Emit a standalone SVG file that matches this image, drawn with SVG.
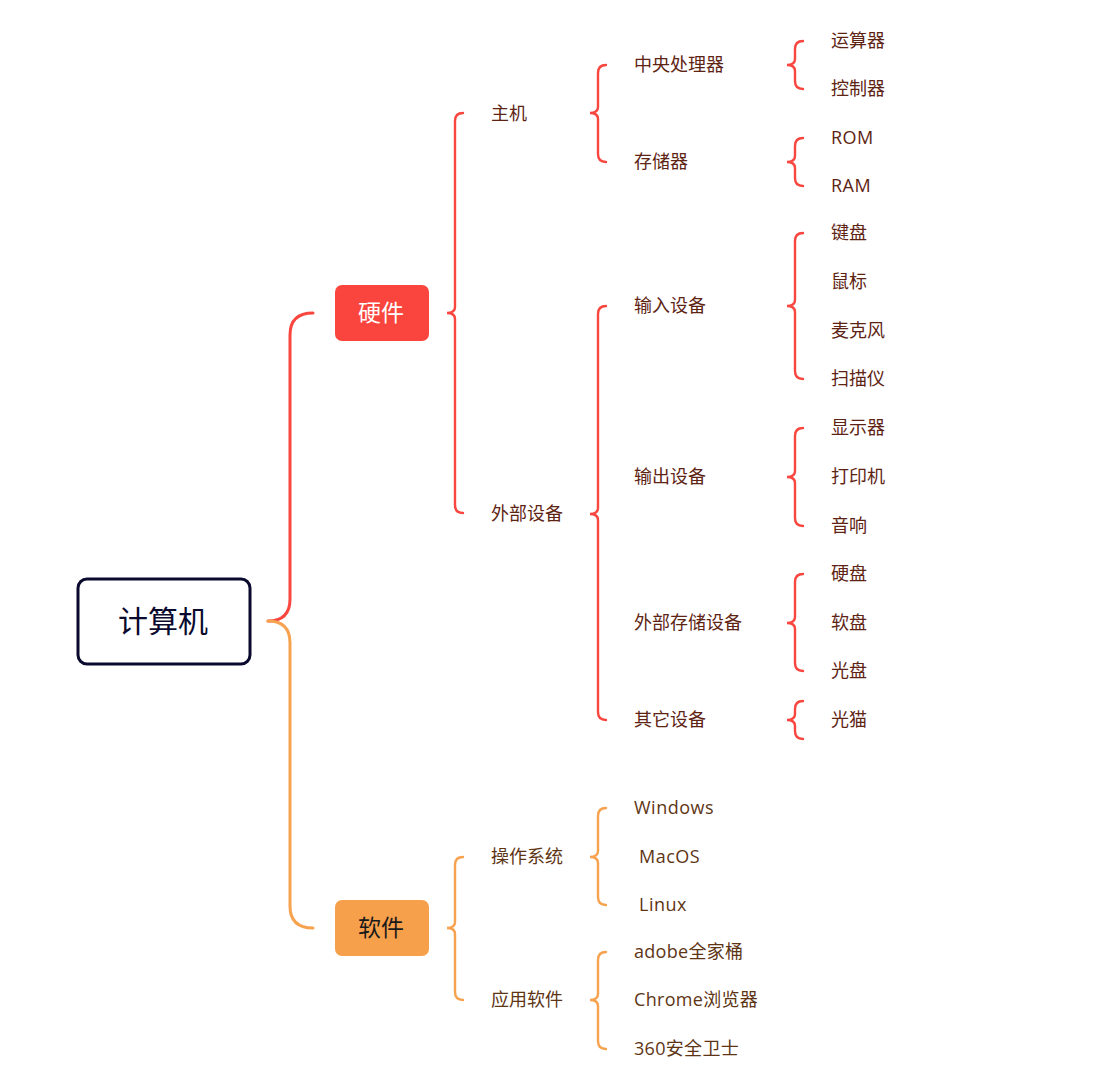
<svg xmlns="http://www.w3.org/2000/svg" width="1117" height="1080" viewBox="0 0 1117 1080">
<style>
text{font-family:"Open Sans","Noto Sans CJK SC",sans-serif;dominant-baseline:central}
.t{font-size:18px;fill:#5e2413}
.s{font-size:18px;fill:#5e3514}
.r{fill:none;stroke:#f9463f;stroke-width:2.4;stroke-linecap:round}
.o{fill:none;stroke:#f6a24f;stroke-width:2.4;stroke-linecap:round}
.m{stroke-width:3}
</style>
<rect width="1117" height="1080" fill="#ffffff"/>
<g id="connectors">
<path class="r m" d="M268,621 Q290,621 290,599 L290,335 Q290,313 313,313"/>
<path class="o m" d="M268,621 Q290,621 290,643 L290,906 Q290,928 313,928"/>
<path class="r" d="M463,113 Q455,113 455,121 L455,307 Q455,313 447,313 Q455,313 455,319 L455,505 Q455,513 463,513"/>
<path class="r" d="M606,65 Q598,65 598,73 L598,107 Q598,113 590,113 Q598,113 598,119 L598,154 Q598,162 606,162"/>
<path class="r" d="M606,306 Q598,306 598,314 L598,508 Q598,514 590,514 Q598,514 598,520 L598,712 Q598,720 606,720"/>
<path class="r" d="M803,41 Q795,41 795,49 L795,59 Q795,65 787,65 Q795,65 795,71 L795,81 Q795,89 803,89"/>
<path class="r" d="M803,138 Q795,138 795,146 L795,156 Q795,162 787,162 Q795,162 795,168 L795,178 Q795,186 803,186"/>
<path class="r" d="M803,233 Q795,233 795,241 L795,300 Q795,306 787,306 Q795,306 795,312 L795,371 Q795,379 803,379"/>
<path class="r" d="M803,428 Q795,428 795,436 L795,471 Q795,477 787,477 Q795,477 795,483 L795,518 Q795,526 803,526"/>
<path class="r" d="M803,574 Q795,574 795,582 L795,617 Q795,623 787,623 Q795,623 795,629 L795,663 Q795,671 803,671"/>
<path class="r" d="M803,701 Q795,701 795,709 L795,714 Q795,720 787,720 Q795,720 795,726 L795,731 Q795,739 803,739"/>
<path class="o" d="M463,857 Q455,857 455,865 L455,922 Q455,928 447,928 Q455,928 455,934 L455,992 Q455,1000 463,1000"/>
<path class="o" d="M606,808 Q598,808 598,816 L598,851 Q598,857 590,857 Q598,857 598,863 L598,897 Q598,905 606,905"/>
<path class="o" d="M606,952 Q598,952 598,960 L598,994 Q598,1000 590,1000 Q598,1000 598,1006 L598,1041 Q598,1049 606,1049"/>
</g>
<g id="root"><rect x="78" y="579" width="172" height="85" rx="9" fill="#ffffff" stroke="#0a0a2e" stroke-width="3"/><text x="163" y="620" font-size="30" fill="#0a0a2e" text-anchor="middle">计算机</text></g>
<g id="hardware"><rect x="335" y="285" width="94" height="56" rx="7" fill="#fa453e"/><text x="381" y="312" font-size="23" fill="#ffffff" text-anchor="middle">硬件</text></g>
<g id="software"><rect x="335" y="900" width="94" height="56" rx="7" fill="#f7a04c"/><text x="381" y="927" font-size="23" fill="#1a1a1a" text-anchor="middle">软件</text></g>
<g id="zhuji"><text class="t" x="491" y="113">主机</text></g>
<g id="waibu"><text class="t" x="491" y="513">外部设备</text></g>
<g id="cpu"><text class="t" x="634" y="64">中央处理器</text></g>
<g id="mem"><text class="t" x="634" y="161">存储器</text></g>
<g id="input"><text class="t" x="634" y="305">输入设备</text></g>
<g id="output"><text class="t" x="634" y="476">输出设备</text></g>
<g id="extstore"><text class="t" x="634" y="622">外部存储设备</text></g>
<g id="other"><text class="t" x="634" y="719">其它设备</text></g>
<g id="alu"><text class="t" x="831" y="40">运算器</text></g>
<g id="ctrl"><text class="t" x="831" y="88">控制器</text></g>
<g id="rom"><text class="t" x="831" y="137" letter-spacing="0.5">ROM</text></g>
<g id="ram"><text class="t" x="831" y="185" letter-spacing="0.5">RAM</text></g>
<g id="kb"><text class="t" x="831" y="232">键盘</text></g>
<g id="mouse"><text class="t" x="831" y="281">鼠标</text></g>
<g id="mic"><text class="t" x="831" y="330">麦克风</text></g>
<g id="scan"><text class="t" x="831" y="378">扫描仪</text></g>
<g id="disp"><text class="t" x="831" y="427">显示器</text></g>
<g id="print"><text class="t" x="831" y="476">打印机</text></g>
<g id="spk"><text class="t" x="831" y="525">音响</text></g>
<g id="hdd"><text class="t" x="831" y="573">硬盘</text></g>
<g id="fdd"><text class="t" x="831" y="622">软盘</text></g>
<g id="cd"><text class="t" x="831" y="670">光盘</text></g>
<g id="modem"><text class="t" x="831" y="719">光猫</text></g>
<g id="os"><text class="s" x="491" y="856">操作系统</text></g>
<g id="apps"><text class="s" x="491" y="999">应用软件</text></g>
<g id="win"><text class="s" x="634" y="807" letter-spacing="0.5">Windows</text></g>
<g id="mac"><text class="s" x="639" y="856" letter-spacing="0.5">MacOS</text></g>
<g id="linux"><text class="s" x="639" y="904" letter-spacing="0.5">Linux</text></g>
<g id="adobe"><text class="s" x="634" y="951" letter-spacing="0.3">adobe全家桶</text></g>
<g id="chrome"><text class="s" x="634" y="999" letter-spacing="0.3">Chrome浏览器</text></g>
<g id="q360"><text class="s" x="634" y="1048" letter-spacing="0.3">360安全卫士</text></g>
</svg>
